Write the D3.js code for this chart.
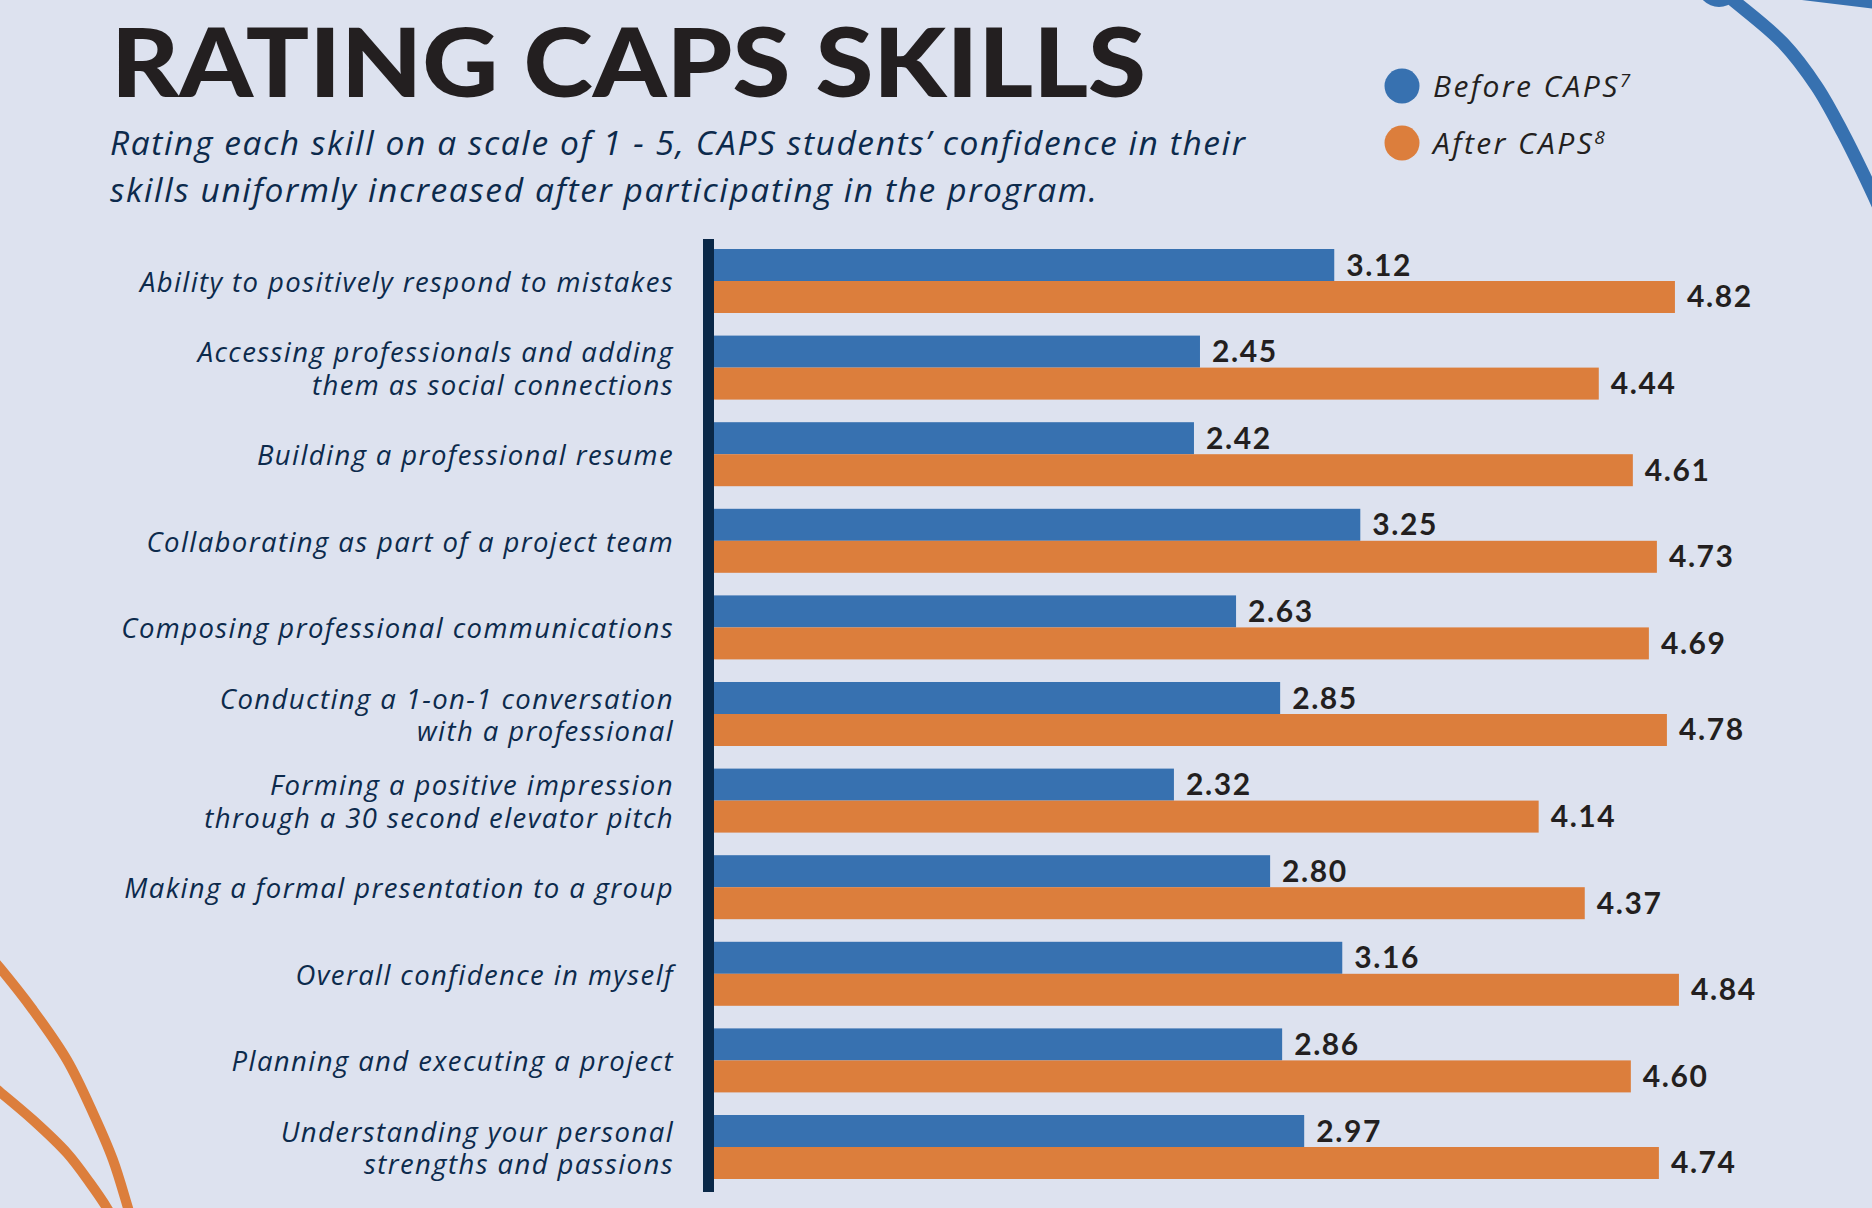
<!DOCTYPE html>
<html>
<head>
<meta charset="utf-8">
<script src="https://cdn.jsdelivr.net/npm/d3@7"></script>
<style>
  html, body { margin: 0; padding: 0; background: #dde2ef; }
  svg { display: block; }
</style>
</head>
<body>
<svg id="chart" width="1872" height="1208"></svg>
<script>
// chart data
let categories = [
    "Ability to positively respond to mistakes",
    "Accessing professionals and adding\nthem as social connections",
    "Building a professional resume",
    "Collaborating as part of a project team",
    "Composing professional communications",
    "Conducting a 1-on-1 conversation\nwith a professional",
    "Forming a positive impression\nthrough a 30 second elevator pitch",
    "Making a formal presentation to a group",
    "Overall confidence in myself",
    "Planning and executing a project",
    "Understanding your personal\nstrengths and passions"
];
let beforeValues = [3.12, 2.45, 2.42, 3.25, 2.63, 2.85, 2.32, 2.80, 3.16, 2.86, 2.97];
let afterValues  = [4.82, 4.44, 4.61, 4.73, 4.69, 4.78, 4.14, 4.37, 4.84, 4.60, 4.74];
let seriesNames = ["Before CAPS", "After CAPS"];
let seriesNotes = ["7", "8"];
let colors = ["#3771b0", "#dc7e3c"];

let svg = d3.select("#chart");
let navy = "#0c2a4c";
let ink = "#231f20";
let italicFont = "'Open Sans'";

// background
svg.append("rect").attr("width", 1872).attr("height", 1208).attr("fill", "#dde2ef");

// decorative arcs
let deco = d3.line().curve(d3.curveCatmullRom);
svg.append("path")
    .attr("d", deco([[-20,945],[0,968],[33,1010],[67,1060],[93,1113],[113,1160],[128,1208],[136,1235]]))
    .attr("fill", "none").attr("stroke", colors[1]).attr("stroke-width", 10);
svg.append("path")
    .attr("d", deco([[-20,1076],[0,1092],[33,1120],[67,1153],[90,1183],[107,1208],[118,1228]]))
    .attr("fill", "none").attr("stroke", colors[1]).attr("stroke-width", 10);
svg.append("path")
    .attr("d", deco([[1715,-15],[1733,0],[1783,43],[1817,87],[1843,133],[1863,173],[1878,205]]))
    .attr("fill", "none").attr("stroke", colors[0]).attr("stroke-width", 13);
svg.append("circle").attr("cx", 1719).attr("cy", -15).attr("r", 22).attr("fill", colors[0]);
svg.append("path")
    .attr("d", "M1790,-8 L1880,3")
    .attr("fill", "none").attr("stroke", colors[0]).attr("stroke-width", 13);

// title + subtitle
svg.append("text")
    .attr("x", 111).attr("y", 97)
    .attr("font-family", "Lato").attr("font-weight", 900).attr("font-size", 95)
    .attr("fill", ink)
    .attr("textLength", 1035).attr("lengthAdjust", "spacingAndGlyphs")
    .text("RATING CAPS SKILLS");

let subtitle = [
    "Rating each skill on a scale of 1 - 5, CAPS students’ confidence in their",
    "skills uniformly increased after participating in the program."
];
svg.append("g").selectAll("text")
    .data(subtitle)
    .enter()
    .append("text")
    .attr("x", 110)
    .attr("y", (d, i) => 155 + i * 47)
    .attr("font-family", italicFont).attr("font-style", "italic").attr("font-weight", 500)
    .attr("font-size", 33.5).attr("letter-spacing", 1.6)
    .attr("fill", navy)
    .text(d => d);

// legend
let legend = svg.append("g").selectAll("g")
    .data(seriesNames)
    .enter()
    .append("g")
    .attr("transform", (d, i) => "translate(1402," + (86 + i * 57) + ")");
legend.append("circle").attr("r", 17.5).attr("fill", (d, i) => colors[i]);
let lt = legend.append("text")
    .attr("x", 31).attr("y", 10.5)
    .attr("font-family", italicFont).attr("font-style", "italic").attr("font-size", 30)
    .attr("letter-spacing", 2.4)
    .attr("fill", ink);
lt.append("tspan").text(d => d);
lt.append("tspan").attr("font-size", 19).attr("dy", -10).text((d, i) => seriesNotes[i]);

// scales
let xScale = d3.scaleLinear().domain([0, 5]).range([709, 1711]);
let yScale = d3.scaleBand().domain(categories).range([249, 1179]).paddingInner(0.261).paddingOuter(0);
let subScale = d3.scaleBand().domain([0, 1]).range([0, yScale.bandwidth()]);

let rows = categories.map((c, i) => ({ cat: c, vals: [beforeValues[i], afterValues[i]] }));

let groups = svg.append("g").selectAll("g")
    .data(rows)
    .enter()
    .append("g")
    .attr("transform", d => "translate(0," + yScale(d.cat) + ")");

groups.selectAll("rect")
    .data(d => d.vals)
    .enter()
    .append("rect")
    .attr("x", xScale(0))
    .attr("y", (d, i) => subScale(i))
    .attr("width", d => xScale(d) - xScale(0))
    .attr("height", subScale.bandwidth())
    .attr("fill", (d, i) => colors[i]);

groups.selectAll(".val")
    .data(d => d.vals)
    .enter()
    .append("text")
    .attr("class", "val")
    .attr("x", d => xScale(d) + 12)
    .attr("y", (d, i) => subScale(i) + subScale.bandwidth() / 2 + 10.5)
    .attr("font-family", "Lato").attr("font-weight", 700).attr("font-size", 30)
    .attr("letter-spacing", 1.6)
    .attr("fill", ink)
    .text(d => d.toFixed(2));

// category labels
let labels = groups.append("text")
    .attr("text-anchor", "end")
    .attr("font-family", italicFont).attr("font-style", "italic").attr("font-size", 27.5)
    .attr("letter-spacing", 1.4)
    .attr("fill", navy);
labels.selectAll("tspan")
    .data(d => d.cat.split("\n"))
    .enter()
    .append("tspan")
    .attr("x", 674)
    .attr("y", (d, i, n) => yScale.bandwidth() / 2 + 11 + (i - (n.length - 1) / 2) * 32.3)
    .text(d => d);

// axis line
svg.append("line")
    .attr("x1", 708.5).attr("x2", 708.5)
    .attr("y1", yScale.range()[0] - 10).attr("y2", yScale.range()[1] + 13)
    .attr("stroke", "#0a2848").attr("stroke-width", 11);
</script>
</body>
</html>
